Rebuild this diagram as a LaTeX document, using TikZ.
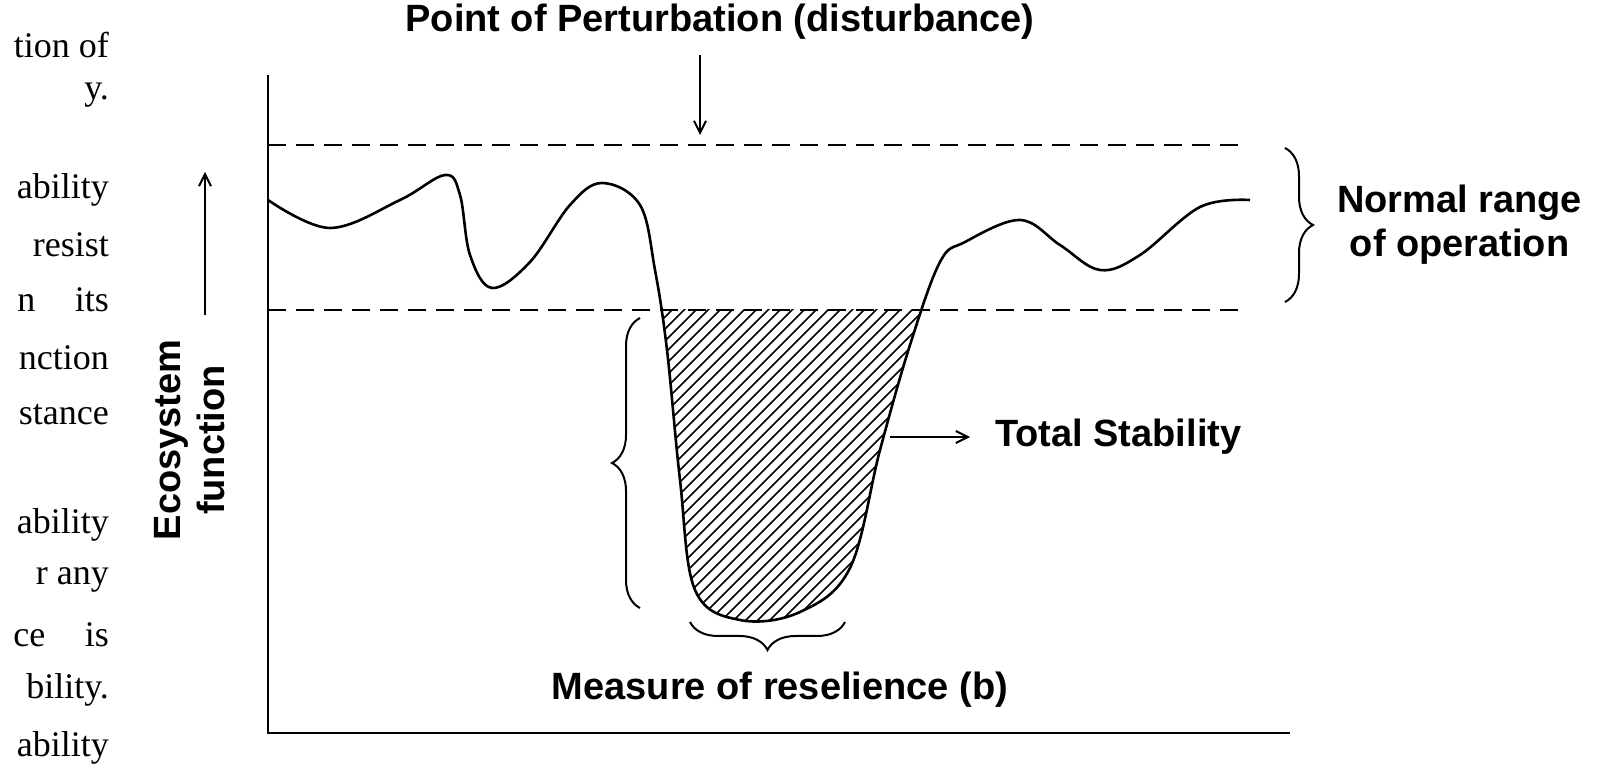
\documentclass[tikz,border=0pt]{standalone}
\usepackage{fontspec}
\setmainfont{Liberation Serif}
\setsansfont{Liberation Sans}
\usetikzlibrary{decorations.pathreplacing,arrows.meta}
\begin{document}
\begin{tikzpicture}[x=0.5pt,y=-0.5pt,
 lbl/.style={font=\sffamily\bfseries\fontsize{19}{22}\selectfont,align=center},
 side/.style={font=\fontsize{18}{20}\selectfont,anchor=east},
 ar/.style={-{Straight Barb[length=6pt,width=6pt]},line width=1pt},
 br/.style={decorate,decoration={brace,amplitude=14pt},line width=1pt}]
\useasboundingbox (0,0) rectangle (1603,764);
\clip (0,0) rectangle (1603,764);
\def\curve{(268,200) (330,228) (400,200) (445,175) (460,195) (470,255) (492,288) (530,262) (570,205) (602,183) (640,205) (655,270) (667,350) (680,480) (695,590) (740,620) (800,612) (850,568) (880,450) (910,345) (940,262) (965,242) (1020,220) (1060,245) (1100,270) (1140,255) (1200,207) (1250,200)}
\begin{scope}
\clip (0,310) rectangle (1603,764);
\clip plot[smooth,tension=0.6] coordinates {\curve} -- (1250,0) -- (268,0) -- cycle;
\foreach \i in {0,...,45}{\draw[line width=0.8pt] ({330+\i*12},640) -- ({330+\i*12+340},300);}
\end{scope}
\draw[line width=1.3pt] plot[smooth,tension=0.6] coordinates {\curve};
\draw[line width=1.3pt] (268,75) -- (268,733) -- (1290,733);
\draw[dash pattern=on 9pt off 5pt,line width=1.1pt] (268,145) -- (1245,145);
\draw[dash pattern=on 9pt off 5pt,line width=1.1pt] (268,310) -- (1245,310);
\node[lbl] (top) at (720,22) {Point of Perturbation (disturbance)};
\coordinate (ta) at (700,55); \coordinate (tb) at (700,135);
\draw[ar] (ta) -- (tb);
\coordinate (ua) at (205,315); \coordinate (ub) at (205,172);
\draw[ar] (ua) -- (ub);
\node[lbl,rotate=90] (eco) at (190,440) {Ecosystem\\function};
\draw[br] (1285,148) -- (1285,302);
\node[lbl,anchor=west] (norm) at (1330,225) {Normal range\\of operation};
\draw[br] (640,608) -- (640,318);
\draw[br] (845,622) -- (690,622);
\node[lbl] (meas) at (780,690) {Measure of reselience (b)};
\coordinate (sa) at (890,437); \coordinate (sb) at (970,437);
\draw[ar] (sa) -- (sb);
\node[lbl,anchor=west] (tot) at (988,437) {Total Stability};
\foreach \y/\t in {45/tion of,95/y.,190/ability,245/resist,300/n\hspace{1.1em}its,358/nction,415/stance,525/ability,580/r any,635/ce\hspace{1.1em}is,690/bility.,748/ability}
 \node[side] at (116,\y) {\t};
\end{tikzpicture}
\end{document}
